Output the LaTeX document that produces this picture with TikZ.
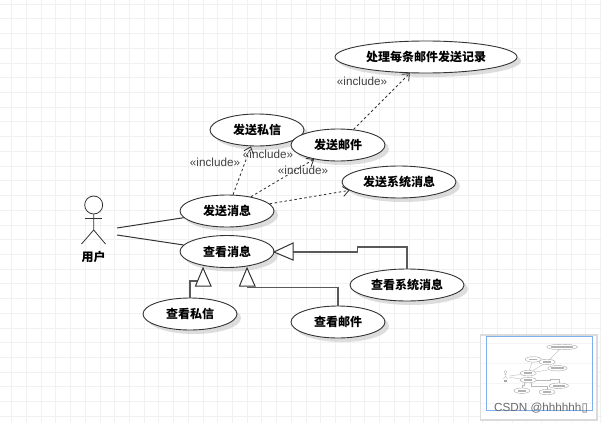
\documentclass[tikz,border=0pt]{standalone}
\usepackage{fontspec}
\setmainfont{Liberation Sans}
\newfontfamily\cjk{Noto Sans CJK SC}
\newfontfamily\dejavu{DejaVu Sans}
\usetikzlibrary{shapes.geometric,arrows.meta,shadows}
\definecolor{gridc}{HTML}{F1F1F1}
\definecolor{linec}{HTML}{333333}
\tikzset{
  uc/.style={ellipse,draw=linec,line width=.9pt,fill=white,inner sep=0pt,minimum height=32pt,
    font=\cjk\bfseries\fontsize{12}{14}\selectfont,text=black,
    drop shadow={shadow xshift=4pt,shadow yshift=-4pt,fill=black!22,opacity=.6}},
  ucfour/.style={uc,minimum width=94pt},
  ucsix/.style={uc,minimum width=114pt},
  uceight/.style={uc,minimum width=182pt},
  incl/.style={draw=linec,line width=.85pt,dash pattern=on 2.5pt off 2.5pt,
    -{Straight Barb[length=6pt,width=10pt,line width=.8pt]}},
  stereo/.style={font=\fontsize{11.7}{13}\selectfont,text=black!75,inner sep=0pt},
  assoc/.style={draw=linec,line width=1pt},
  gen/.style={draw=black!65,line width=1.3pt},
  gentri/.style={draw=linec,line width=1pt,fill=white},
  actorline/.style={draw=linec,line width=.8pt},
  miniline/.style={draw=black!28,line width=.35pt},
}
\begin{document}
\begin{tikzpicture}[x=1pt,y=-1pt]
\useasboundingbox (0,0) rectangle (602,423);
\fill[white] (0,0) rectangle (602,423);
% grid
\foreach \k in {0,...,40} \draw[gridc,line width=1pt] ({11.7+14.72*\k},0) -- ({11.7+14.72*\k},423);
\foreach \k in {0,...,28} \draw[gridc,line width=1pt] (0,{4.2+14.72*\k}) -- (602,{4.2+14.72*\k});
% actor
\draw[actorline,fill=white] (93.7,205) circle (9);
\draw[actorline] (93.7,214) -- (93.7,230) -- (81.5,244);
\draw[actorline] (93.7,230) -- (105.5,244);
\draw[actorline] (85,218.7) -- (102,218.7);
\node[font=\cjk\bfseries\fontsize{12}{14}\selectfont,inner sep=0pt] (user) at (93.5,256.5) {用户};
\coordinate (actorA) at (117,228);
\coordinate (actorB) at (117,235);
% use cases
\node[ucfour] (priv) at (257,130) {发送私信};
\node[ucfour] (mail) at (338,145) {发送邮件};
\node[uceight] (rec) at (426,57) {处理每条邮件发送记录};
\node[ucsix] (sys) at (399,182) {发送系统消息};
\node[ucfour] (send) at (227,211) {发送消息};
\node[ucfour] (view) at (227,251.5) {查看消息};
\node[ucsix] (vsys) at (407,285) {查看系统消息};
\node[ucfour] (vpriv) at (190,314) {查看私信};
\node[ucfour] (vmail) at (338,322) {查看邮件};
% associations
\draw[assoc] (actorA) -- (send);
\draw[assoc] (actorB) -- (view);
% includes
\draw[incl] (send) -- (priv);
\draw[incl] (send) -- (mail);
\draw[incl] (send) -- (sys);
\draw[incl] (mail) -- (rec);
\node[stereo] (l1) at (215,162) {«include»};
\node[stereo] (l2) at (268,154) {«include»};
\node[stereo] (l3) at (303,170) {«include»};
\node[stereo] (l4) at (362,81) {«include»};
% generalisations
\coordinate (t1) at (274,252); \coordinate (t1a) at (293,243); \coordinate (t1b) at (293,260);
\coordinate (t1m) at (293,252);
\draw[gen] (vsys.north) -- (407,247) -- (357.5,247) -- (357.5,252) -- (t1m);
\draw[gentri] (t1) -- (t1a) -- (t1b) -- cycle;
\coordinate (t2) at (203,268); \coordinate (t2a) at (195.5,286); \coordinate (t2b) at (211,286);
\draw[gen] (vpriv.north) -- (190,281) -- (197.6,281);
\draw[gentri] (t2) -- (t2a) -- (t2b) -- cycle;
\coordinate (t3) at (247,268); \coordinate (t3a) at (239.5,286); \coordinate (t3b) at (255,286);
\coordinate (t3m) at (247,287.5);
\draw[gen] (vmail.north) -- (338,287.5) -- (t3m);
\draw[gentri] (t3) -- (t3a) -- (t3b) -- cycle;
% overview panel
\fill[black!14] (479.5,334) rectangle (598,420.5);
\fill[white] (481,336) rectangle (596,418.5);
\foreach \k in {0,...,3} \draw[gridc!70,line width=.5pt] (481,{343+20*\k}) -- (596,{343+20*\k});
\begin{scope}[shift={(489.6,337.3)},x=.17pt,y=-.17pt]
  \draw[miniline] (117,228) -- (180,219);
  \draw[miniline] (117,235) -- (180,245);
  \draw[miniline] (233,195) -- (250,147);
  \draw[miniline] (255,195) -- (310,162);
  \draw[miniline] (275,203) -- (342,192);
  \draw[miniline] (354,129) -- (409,74);
  \draw[miniline] (274,252) -- (357,252) -- (357,247) -- (407,247) -- (407,269);
  \draw[miniline] (190,298) -- (190,281) -- (203,281) -- (203,268);
  \draw[miniline] (247,268) -- (247,287) -- (338,287) -- (338,306);
  \draw[miniline] (93.7,214) -- (93.7,230) -- (81.5,244) (93.7,230) -- (105.5,244) (85,218.7) -- (102,218.7);
  \draw[miniline,fill=white] (93.7,205) circle [radius=9];
  \foreach \cx/\cy/\rx/\tw in {426/57/91/130,257/130/47/48,338/145/47/48,399/182/57/72,227/211/47/48,227/251.5/47/48,407/285/57/72,190/314/47/48,338/322/47/48}{
    \draw[black!35,line width=.4pt,fill=white] (\cx,\cy) ellipse [x radius=\rx,y radius=16];
    \fill[black!30] ({\cx-\tw/2},{\cy-5}) rectangle ({\cx+\tw/2},{\cy+5});
  }
  \fill[black!35] (82,252) rectangle (105,262);
\end{scope}
\draw[color={rgb,255:red,126;green,176;blue,240},line width=1pt] (486,336) rectangle (592,410.5);
\node[anchor=west,inner sep=0pt,text=black!58,font=\fontsize{11.7}{14}\selectfont] (wm) at (494,408) {CSDN @hhhhhh{\dejavu ▯}};
\end{tikzpicture}
\end{document}
